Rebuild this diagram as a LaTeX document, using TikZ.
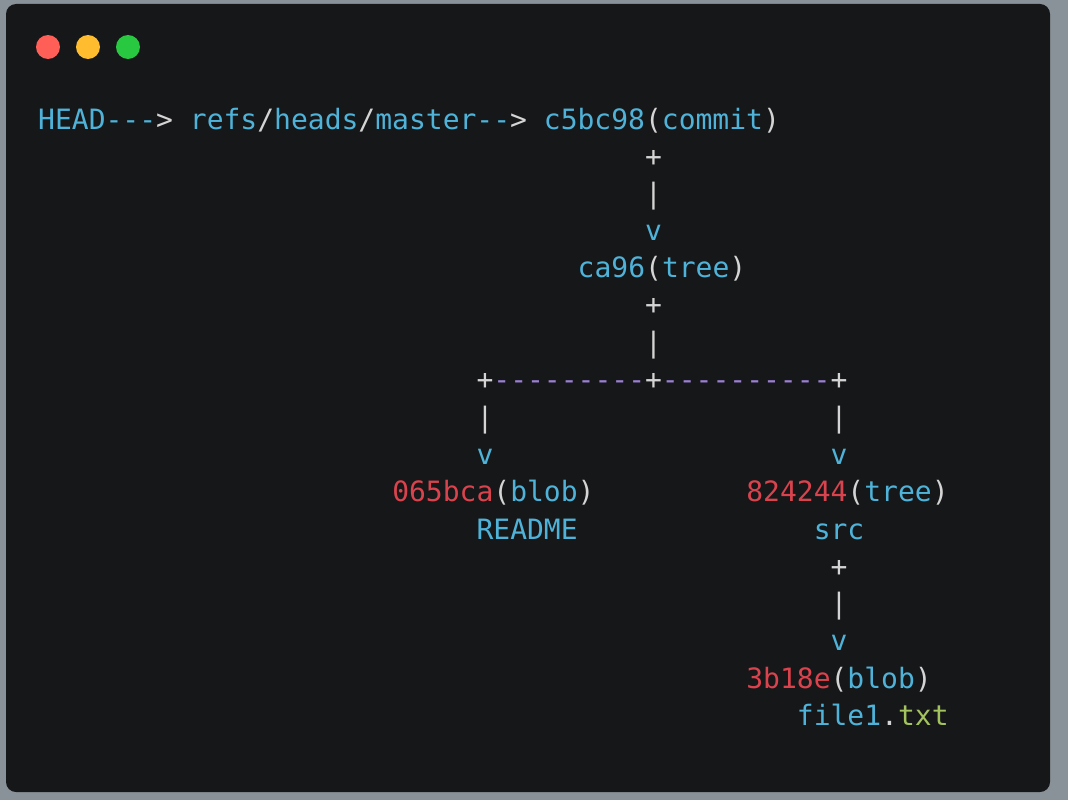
\documentclass[tikz,border=0pt]{standalone}
\usepackage{fontspec}
\setmonofont{DejaVu Sans Mono}
\definecolor{bg}{HTML}{8A9299}
\definecolor{win}{HTML}{161719}
\definecolor{cb}{HTML}{4FB3D9}
\definecolor{cr}{HTML}{D9434E}
\definecolor{cw}{HTML}{D4D4D4}
\definecolor{cp}{HTML}{9B7FD4}
\definecolor{cg}{HTML}{A3C35E}
\definecolor{dred}{HTML}{FF5F57}
\definecolor{dyel}{HTML}{FEBC2E}
\definecolor{dgrn}{HTML}{28C840}
\newcommand{\B}[1]{\textcolor{cb}{#1}}
\newcommand{\R}[1]{\textcolor{cr}{#1}}
\newcommand{\W}[1]{\textcolor{cw}{#1}}
\newcommand{\Pp}[1]{\textcolor{cp}{#1}}
\newcommand{\G}[1]{\textcolor{cg}{#1}}
\begin{document}
\begin{tikzpicture}[x=1pt,y=1pt,
  ln/.style={anchor=mid west,inner sep=0pt,font=\ttfamily\fontsize{28}{30}\selectfont}]
\useasboundingbox (0,0) rectangle (1068,-800);
\fill[bg] (0,0) rectangle (1068,-800);
\fill[win,rounded corners=10pt] (6,-4) rectangle (1050,-792);
\fill[dred] (48,-47) circle (12);
\fill[dyel] (88,-47) circle (12);
\fill[dgrn] (128,-47) circle (12);
\def\chw{16.86}
\newcommand{\Ln}[4]{\node[ln] (#1) at ({38+#2*\chw},{-#3}) {#4};}
\Ln{l1}{0}{127}{\B{HEAD---}\W{>} \B{refs}\W{/}\B{heads}\W{/}\B{master--}\W{>} \B{c5bc98}\W{(}\B{commit}\W{)}}
\Ln{l2}{36}{164}{\W{+}}
\Ln{l3}{36}{201}{\W{|}}
\Ln{l4}{36}{238}{\B{v}}
\Ln{l5}{32}{275}{\B{ca96}\W{(}\B{tree}\W{)}}
\Ln{l6}{36}{312}{\W{+}}
\Ln{l7}{36}{350}{\W{|}}
\Ln{l8}{26}{387}{\W{+}\Pp{---------}\W{+}\Pp{----------}\W{+}}
\Ln{l9a}{26}{425}{\W{|}}
\Ln{l9b}{47}{425}{\W{|}}
\Ln{l10a}{26}{462}{\B{v}}
\Ln{l10b}{47}{462}{\B{v}}
\Ln{l11a}{21}{499}{\R{065bca}\W{(}\B{blob}\W{)}}
\Ln{l11b}{42}{499}{\R{824244}\W{(}\B{tree}\W{)}}
\Ln{l12a}{26}{537}{\B{README}}
\Ln{l12b}{46}{537}{\B{src}}
\Ln{l13}{47}{574}{\W{+}}
\Ln{l14}{47}{611}{\W{|}}
\Ln{l15}{47}{648}{\B{v}}
\Ln{l16}{42}{686}{\R{3b18e}\W{(}\B{blob}\W{)}}
\Ln{l17}{45}{723}{\B{file1}\W{.}\G{txt}}
\end{tikzpicture}
\end{document}
